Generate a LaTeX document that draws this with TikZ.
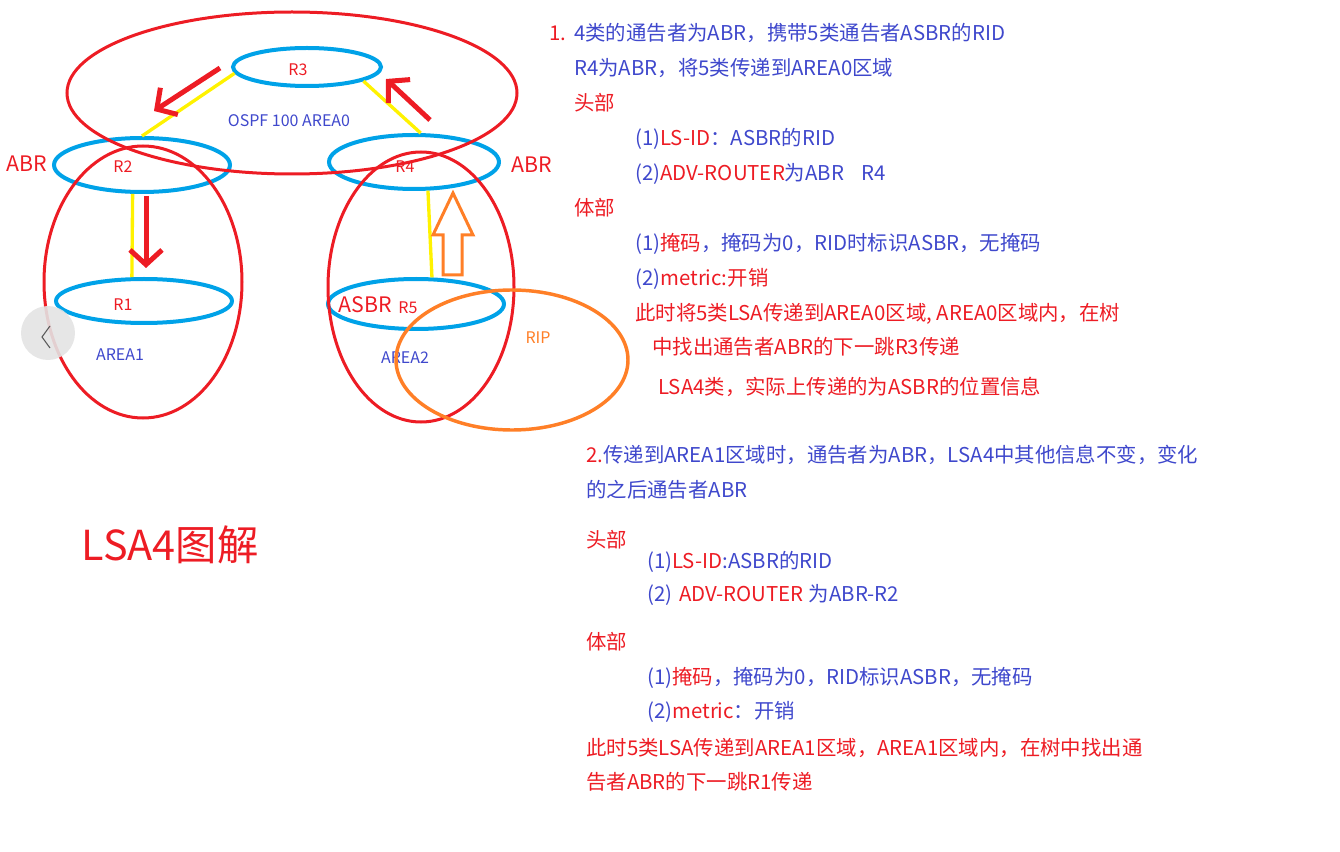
\documentclass[tikz,border=0pt]{standalone}
\usepackage{fontspec}
\setmainfont{Noto Sans CJK SC}
\usetikzlibrary{shapes.geometric,arrows.meta}
\definecolor{areared}{RGB}{237,28,36}
\definecolor{routerblue}{RGB}{0,162,232}
\definecolor{linkyellow}{RGB}{255,242,0}
\definecolor{riporange}{RGB}{255,127,39}
\definecolor{textblue}{RGB}{63,72,204}
\newcommand{\inblue}[1]{\textcolor{textblue}{#1}}
\newcommand{\inred}[1]{\textcolor{areared}{#1}}
\begin{document}
\begin{tikzpicture}[x=0.75pt,y=-0.75pt,
    router/.style={ellipse,draw=routerblue,line width=3pt,inner sep=0pt},
    area/.style={ellipse,draw=areared,line width=2.25pt,inner sep=0pt},
    link/.style={draw=linkyellow,line width=2.5pt},
    flow/.style={draw=areared,line width=3.75pt,-{Straight Barb[length=11pt,width=24pt]}},
    lbl/.style={inner sep=0pt,font=\fontsize{12pt}{14pt}\selectfont},
    role/.style={inner sep=0pt,text=areared,font=\fontsize{16pt}{19pt}\selectfont},
    line/.style={anchor=base west,inner sep=0pt,font=\fontsize{15.3pt}{18pt}\selectfont}]
  \useasboundingbox (0,0) rectangle (1340,852);
  \node[router,minimum width=111pt,minimum height=28.5pt] (r3) at (307,67) {};
  \node[router,minimum width=132pt,minimum height=40.5pt] (r2) at (142,165) {};
  \node[router,minimum width=127.5pt,minimum height=40.5pt] (r4) at (414,162) {};
  \node[router,minimum width=132pt,minimum height=33pt] (r1) at (144,301) {};
  \node[router,minimum width=132pt,minimum height=37.5pt] (r5) at (416,304) {};
  \node[lbl,text=areared] (n3) at (298,70) {R3};
  \node[lbl,text=areared] (n2) at (123,167) {R2};
  \node[lbl,text=areared] (n4) at (405,167) {R4};
  \node[lbl,text=areared] (n1) at (123,305) {R1};
  \node[lbl,text=areared] (n5) at (408,308) {R5};
  \node[lbl,text=textblue] (ospf) at (289,121) {OSPF 100 AREA0};
  \node[lbl,text=textblue] (area1) at (120,355) {AREA1};
  \node[lbl,text=textblue] (area2) at (405,358) {AREA2};
  \node[lbl,text=riporange] (rip) at (538,338) {RIP};
  \node[role] (abrl) at (27,164) {ABR};
  \node[role] (abrr) at (532,165) {ABR};
  \node[role] (asbr) at (365,305) {ASBR};
  \node[area,minimum width=337.5pt,minimum height=121.5pt] (a0) at (292,93) {};
  \node[area,minimum width=148.5pt,minimum height=204pt] (a1) at (143,282) {};
  \node[area,minimum width=139.5pt,minimum height=202.5pt] (a2) at (421,287) {};
  \node[ellipse,draw=riporange,line width=2.6pt,inner sep=0pt,minimum width=174pt,minimum height=105pt] (ripz) at (512,360) {};
  \draw[link] (r3.185) -- (r2.north);
  \draw[link] (r3.346) -- (r4.77);
  \draw[link] (r2.252) -- (r1.117);
  \draw[link] (r4.296) -- (r5.59);
  \coordinate (f1s) at (220,68);
  \coordinate (f1e) at (154,111);
  \coordinate (f2s) at (430,120);
  \coordinate (f2e) at (386,79);
  \coordinate (f3s) at (146,196);
  \coordinate (f3e) at (146,268);
  \draw[flow] (f1s) -- (f1e);
  \draw[flow] (f2s) -- (f2e);
  \draw[flow] (f3s) -- (f3e);
  \draw[riporange,line width=2.25pt,line join=miter]
    (453,193) -- (473,235) -- (462,235) -- (462,275) -- (443,275) -- (443,235) -- (433,235) -- cycle;
  \node[circle,fill=gray!22,fill opacity=0.9,minimum size=40.5pt,inner sep=0pt] (back) at (48,333) {};
  \draw[gray!70!black,line width=0.8pt] (50,326) -- (42,337) -- (50,348);
  \node[inner sep=0pt,text=areared,font=\fontsize{31pt}{36pt}\selectfont] (title) at (170,545) {LSA4图解};
  \node[line] (l1) at (549,41) {\inred{1.}\hspace{6pt}\inblue{4类的通告者为ABR，携带5类通告者ASBR的RID}};
  \node[line] (l2) at (574,76) {\inblue{R4为ABR，将5类传递到AREA0区域}};
  \node[line] (l3) at (574,111) {\inred{头部}};
  \node[line] (l4) at (635,146) {\inblue{(1)}\inred{LS-ID}\inblue{：ASBR的RID}};
  \node[line] (l5) at (635,181) {\inblue{(2)}\inred{ADV-ROUTER}\inblue{为ABR\hspace{0.85em}R4}};
  \node[line] (l6) at (574,216) {\inred{体部}};
  \node[line] (l7) at (635,251) {\inblue{(1)}\inred{掩码}\inblue{，掩码为0，RID时标识ASBR，无掩码}};
  \node[line] (l8) at (635,286) {\inblue{(2)}\inred{metric:开销}};
  \node[line] (l9) at (635,321) {\inred{此时将5类LSA传递到AREA0区域, AREA0区域内，在树}};
  \node[line] (l10) at (652,355) {\inred{中找出通告者ABR的下一跳R3传递}};
  \node[line] (l11) at (658,395) {\inred{LSA4类，实际上传递的为ASBR的位置信息}};
  \node[line] (l12) at (586,463) {\inred{2.}\inblue{传递到AREA1区域时，通告者为ABR，LSA4中其他信息不变，变化}};
  \node[line] (l13) at (586,498) {\inblue{的之后通告者ABR}};
  \node[line] (l14) at (586,547) {\inred{头部}};
  \node[line] (l15) at (647,568) {\inblue{(1)}\inred{LS-ID}\inblue{:ASBR的RID}};
  \node[line] (l16) at (647,601) {\inblue{(2)}\hspace{5pt}\inred{ADV-ROUTER}\hspace{4pt}\inblue{为ABR-R2}};
  \node[line] (l17) at (586,649) {\inred{体部}};
  \node[line] (l18) at (647,684) {\inblue{(1)}\inred{掩码}\inblue{，掩码为0，RID标识ASBR，无掩码}};
  \node[line] (l19) at (647,718) {\inblue{(2)}\inred{metric}\inblue{：开销}};
  \node[line] (l20) at (586,755) {\inred{此时5类LSA传递到AREA1区域，AREA1区域内，在树中找出通}};
  \node[line] (l21) at (586,789) {\inred{告者ABR的下一跳R1传递}};
\end{tikzpicture}
\end{document}
